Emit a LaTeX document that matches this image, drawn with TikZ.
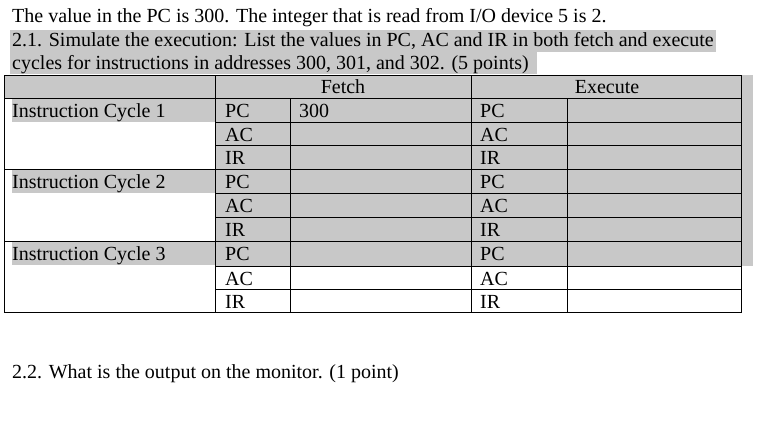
\documentclass[tikz,border=0pt]{standalone}
\usepackage{fontspec}
\setmainfont{Liberation Serif}
\definecolor{hl}{RGB}{200,200,200}
\begin{document}
\begin{tikzpicture}[x=1pt,y=-1pt,
  txt/.style={anchor=base west,inner sep=0pt,font=\fontsize{20}{22}\selectfont},
  ctr/.style={anchor=base,inner sep=0pt,font=\fontsize{20}{22}\selectfont},
  grid/.style={line width=0.9pt}]
\useasboundingbox[fill=white] (0,0) rectangle (763,423);
% highlighted text lines
\fill[hl] (10,30) rectangle (716,52);
\fill[hl] (10,52) rectangle (537,74);
% table shading
\fill[hl] (4,75) rectangle (753,98);
\fill[hl] (215,98) rectangle (753,266);
\foreach \y in {98,169,241} \fill[hl] (12,\y) rectangle (215,\y+24);
\node[txt] (t1) at (12,22) {The value in the PC is 300. The integer that is read from I/O device 5 is 2.};
\node[txt] (t2) at (12,46) {2.1. Simulate the execution: List the values in PC, AC and IR in both fetch and execute};
\node[txt] (t3) at (12,69) {cycles for instructions in addresses 300, 301, and 302. (5 points)};
% grid
\draw[grid] (4,75) rectangle (741,312);
\foreach \y in {98,122,145,169,193,217,241,266,289} \draw[grid] (215,\y) -- (741,\y);
\foreach \y in {98,169,241} \draw[grid] (4,\y) -- (215,\y);
\draw[grid] (215,75) -- (215,312);
\draw[grid] (290,98) -- (290,312);
\draw[grid] (471,75) -- (471,312);
\draw[grid] (567,98) -- (567,312);
\node[ctr] (hf) at (343,93) {Fetch};
\node[ctr] (he) at (607,93) {Execute};
\foreach \y/\n in {98/1,169/2,241/3}
  \node[txt] (ic\n) at (12,\y+19) {Instruction Cycle \n};
\foreach \y/\r [count=\i] in {98/PC,122/AC,145/IR,169/PC,193/AC,217/IR,241/PC,266/AC,289/IR}{
  \node[txt] (f\i) at (225,\y+19) {\r};
  \node[txt] (e\i) at (480,\y+19) {\r};}
\node[txt] (v) at (299,117) {300};
\node[txt] (q) at (12,378) {2.2. What is the output on the monitor. (1 point)};
\end{tikzpicture}
\end{document}
